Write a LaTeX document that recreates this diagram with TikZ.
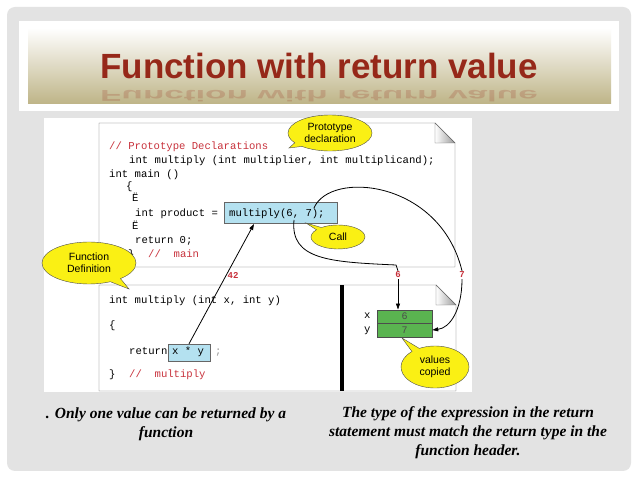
\documentclass[tikz,border=0pt]{standalone}
\usepackage{fontspec}
\setmainfont{Liberation Sans}
\newfontfamily\codefont{Liberation Mono}
\newfontfamily\capfont{Liberation Serif}
\usetikzlibrary{shapes.callouts,arrows.meta}
\definecolor{codered}{RGB}{200,50,60}
\definecolor{callyellow}{RGB}{250,240,20}
\definecolor{boxblue}{RGB}{180,225,240}
\definecolor{boxgreen}{RGB}{90,180,80}
\definecolor{titlered}{RGB}{150,40,25}
\tikzset{
 code/.style={anchor=base west,inner sep=0pt,font=\codefont\fontsize{10.6}{10}\selectfont},
 rcode/.style={code,text=codered},
 bubble/.style={ellipse callout,draw=black!70,fill=callyellow,font=\fontsize{10.5}{12}\selectfont,align=center,inner sep=0pt},
 lbl/.style={text=codered,font=\codefont\bfseries\fontsize{9}{9}\selectfont,inner sep=1pt},
 captext/.style={font=\capfont\bfseries\itshape\fontsize{15.5}{19}\selectfont,align=center},
 conn/.style={black,line width=0.8pt},
 tip/.style={-{Triangle[length=6pt,width=4pt]}}
}
\begin{document}
\begin{tikzpicture}[x=1pt,y=-1pt]
\useasboundingbox (0,0) rectangle (638,478);
\fill[white] (0,0) rectangle (638,478);
\fill[black!11,rounded corners=8pt] (7,7) rectangle (631,471);
% title
\fill[white] (19,21) rectangle (619,111);
\shade[top color=white,bottom color={rgb,255:red,190;green,180;blue,135}] (28,28) rectangle (611,104);
\node[font=\bfseries\fontsize{35}{35}\selectfont,text=titlered] (title) at (319,66) {Function with return value};
\node[font=\bfseries\fontsize{35}{35}\selectfont,text=titlered,opacity=0.2,yscale=-0.45] (refl) at (319,96) {Function with return value};
% white panel
\fill[white] (44,118) rectangle (472,392);
% top box
\draw[black!60,fill=white] (99,123) -- (435,123) -- (455,143) -- (455,267) -- (99,267) -- cycle;
\shade[left color=white,right color=black!40,draw=black!60] (435,123) -- (435,143) -- (455,143) -- cycle;
\node[rcode] (l1) at (109,150) {// Prototype Declarations};
\node[code] (l2) at (129,164) {int multiply (int multiplier, int multiplicand);};
\node[code] (l3) at (109,178) {int main ()};
\node[code] (l4) at (126,190) {\{};
\node[code] (l5) at (132,202) {Ë};
\node[code] (l6) at (135,217) {int product =};
\node[draw=black!60,fill=boxblue,minimum width=113pt,minimum height=21pt,inner sep=0pt] (call) at (280.5,212.5) {};
\node[code] (l6b) at (229,217) {multiply(6, 7);};
\node[code] (l7) at (132,230) {Ë};
\node[code] (l8) at (135,244) {return 0;};
\node[code] (l9) at (128,258) {\}};
\node[rcode] (l9b) at (148,258) {//\ \ main};
% bottom box
\draw[black!60,fill=white] (99,285) -- (436,285) -- (456,305) -- (456,391) -- (99,391) -- cycle;
\shade[left color=white,right color=black!40,draw=black!60] (436,285) -- (436,305) -- (456,305) -- cycle;
\fill[black] (340,285) rectangle (344,391);
\node[code] (b1) at (109,304) {int multiply (int x, int y)};
\node[code] (b2) at (109,329) {\{};
\node[code] (b3) at (129,355) {return};
\node[draw=black!60,fill=boxblue,minimum width=42pt,minimum height=17pt,inner sep=0pt] (ret) at (189,352.5) {};
\node[code] (b3b) at (172,355) {x * y};
\node[code,text=black!40] (b3c) at (215,355) {;};
\node[code] (b4) at (109,378) {\}};
\node[rcode] (b4b) at (129,378) {//\ \ multiply};
% x y boxes
\node[draw=black!70,fill=boxgreen,minimum width=55pt,minimum height=13.5pt,inner sep=0pt,font=\codefont\fontsize{10}{10}\selectfont,text=black!70] (xb) at (404.5,316.5) {6};
\node[draw=black!70,fill=boxgreen,minimum width=55pt,minimum height=13.5pt,inner sep=0pt,font=\codefont\fontsize{10}{10}\selectfont,text=black!70] (yb) at (404.5,330) {7};
\node[code] (xl) at (364,319) {x};
\node[code] (yl) at (364,333) {y};
% labels
\node[lbl] (n42) at (233,275) {42};
\node[lbl] (n6) at (398,275) {6};
\node[lbl] (n7) at (462,275) {7};
% connectors
\coordinate (c6s) at (294,220);
\coordinate (c7s) at (314,208);
\draw[conn,tip] (ret.north) -- (254,224);
\draw[conn] (c6s) .. controls (290,260) and (330,262) .. (396,265) -- (n6.north);
\draw[conn,tip] (n6.south) -- (xb.north -| n6);
\draw[conn] (c7s) .. controls (330,170) and (440,180) .. (n7.north);
\draw[conn,tip] (n7.south) .. controls (462,310) and (450,328) .. (yb.east);
% callouts
\node[bubble,minimum width=84pt,minimum height=36pt,callout absolute pointer={(289,148)}] (pd) at (330,133) {Prototype\\declaration};
\node[bubble,minimum width=54pt,minimum height=24pt,callout absolute pointer={(306,223)}] (cl) at (338,237) {Call};
\node[bubble,minimum width=94pt,minimum height=42pt,callout absolute pointer={(129,289)}] (fd) at (89,263) {Function\\Definition};
\node[bubble,minimum width=68pt,minimum height=42pt,callout absolute pointer={(402,338)}] (vc) at (435,367) {values\\copied};
% captions
\node[captext] (capl) at (166,424) {. Only one value can be returned by a\\function};
\node[captext] (capr) at (468,433) {The type of the expression in the return\\statement must match the return type in the\\function header.};
\end{tikzpicture}
\end{document}
